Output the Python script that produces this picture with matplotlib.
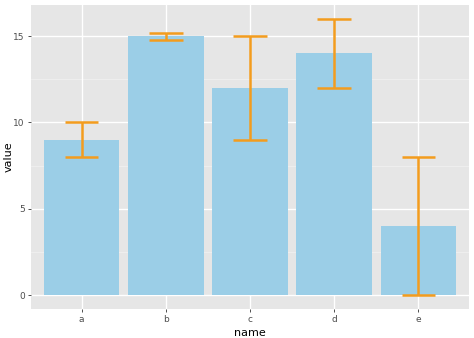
import matplotlib.pyplot as plt
import numpy as np

names = ["a", "b", "c", "d", "e"]
values = [9, 15, 12, 14, 4]
err_low = [8, 14.8, 9, 12, 0]
err_high = [10, 15.2, 15, 16, 8]

fig = plt.figure(figsize=(4.74, 3.38), dpi=100)
ax = fig.add_axes([31/474, 1 - 309/338, 438/474, 304/338])
ax.set_facecolor("#E6E6E6")

x = np.arange(1, len(names) + 1)

# grid, ggplot style
for y in [2.5, 7.5, 12.5]:
    ax.axhline(y, color="#F2F2F2", lw=0.5, zorder=0)
for y in [0, 5, 10, 15]:
    ax.axhline(y, color="white", lw=1.0, zorder=0)
for xi in x:
    ax.axvline(xi, color="white", lw=1.0, zorder=0)

ax.bar(x, values, width=0.9, color="#9BCEE7", zorder=2)

ecol = "#F39C1E"
for xi, lo, hi in zip(x, err_low, err_high):
    ax.plot([xi, xi], [lo, hi], color=ecol, lw=1.8, zorder=3, solid_capstyle="butt")
    for yy in (lo, hi):
        ax.plot([xi - 0.2, xi + 0.2], [yy, yy], color=ecol, lw=1.8, zorder=3, solid_capstyle="butt")

ax.set_xlim(0.4, 5.6)
ax.set_ylim(-0.8, 16.8)
ax.set_xticks(x)
ax.set_xticklabels(names)
ax.set_yticks([0, 5, 10, 15])
ax.tick_params(length=2.5, width=0.6, color="#333333", labelcolor="#4D4D4D", labelsize=6.5, pad=2)
for s in ax.spines.values():
    s.set_visible(False)

ax.set_xlabel("name", fontsize=8, labelpad=3)
ax.set_ylabel("value", fontsize=8)
ax.yaxis.set_label_coords(-17/438, 0.5)

fig.savefig("out.png", dpi=100)
